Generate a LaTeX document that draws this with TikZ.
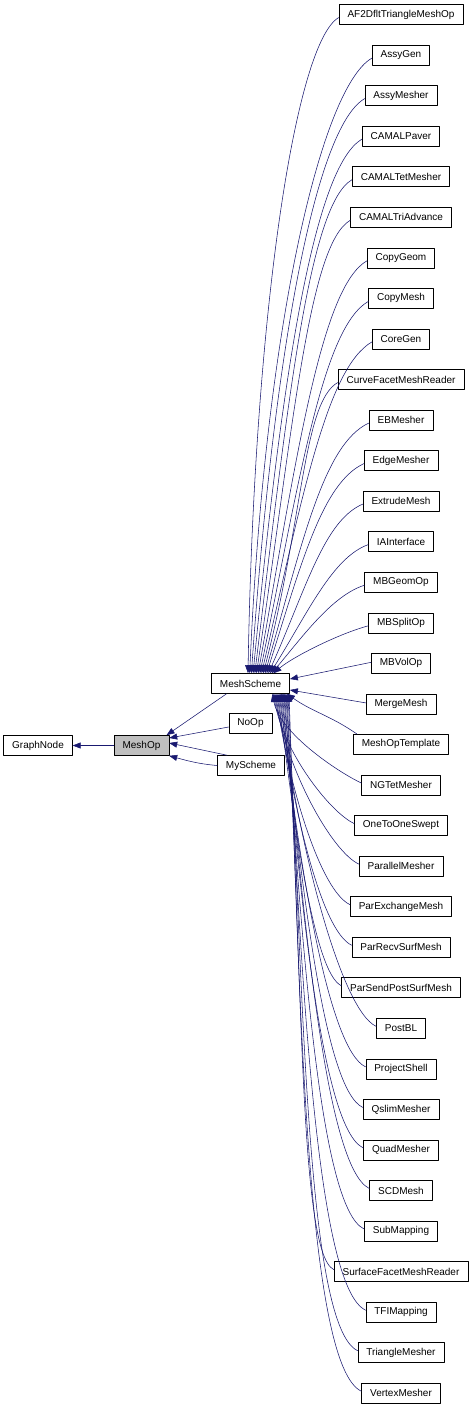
\documentclass[tikz,border=0pt]{standalone}
\usepackage{fontspec}
\setmainfont{Liberation Sans}
\usetikzlibrary{arrows.meta}
\definecolor{edgeblue}{RGB}{25,25,112}
\definecolor{opgray}{RGB}{191,191,191}
\begin{document}
\begin{tikzpicture}[x=1pt, y=1pt, font=\fontsize{10}{12}\selectfont, line join=round, line cap=round,
		cls/.style={draw=black, fill=white, line width=0.6pt, inner xsep=8.5pt, inner ysep=0pt, minimum height=20pt},
		edge/.style={draw=edgeblue, line width=0.55pt, -{Triangle[length=8pt, width=6pt]}}]
				\useasboundingbox (0,0) rectangle (474,-1409);
				% left part
				\node[cls] (graphnode) at (38,-745.5) {GraphNode};
				\node[cls, fill=opgray] (meshop) at (141.5,-745.5) {MeshOp};
				\node[cls] (ms) at (250.5,-683.5) {MeshScheme};
				\node[cls] (noop) at (250.5,-723.5) {NoOp};
				\node[cls] (myscheme) at (251,-765.5) {MyScheme};
				% derived schemes
				\node[cls] (af2) at (401,-14.5) {AF2DfltTriangleMeshOp};
				\node[cls] (assygen) at (401,-55.1) {AssyGen};
				\node[cls] (assymesher) at (401,-95.6) {AssyMesher};
				\node[cls] (camalpaver) at (401,-136.2) {CAMALPaver};
				\node[cls] (camaltet) at (401,-176.7) {CAMALTetMesher};
				\node[cls] (camaltri) at (401,-217.3) {CAMALTriAdvance};
				\node[cls] (copygeom) at (401,-257.8) {CopyGeom};
				\node[cls] (copymesh) at (401,-298.4) {CopyMesh};
				\node[cls] (coregen) at (401,-338.9) {CoreGen};
				\node[cls] (curvefacet) at (401,-379.5) {CurveFacetMeshReader};
				\node[cls] (ebmesher) at (401,-420.0) {EBMesher};
				\node[cls] (edgemesher) at (401,-460.6) {EdgeMesher};
				\node[cls] (extrude) at (401,-501.1) {ExtrudeMesh};
				\node[cls] (iaint) at (401,-541.7) {IAInterface};
				\node[cls] (mbgeom) at (401,-582.2) {MBGeomOp};
				\node[cls] (mbsplit) at (401,-622.8) {MBSplitOp};
				\node[cls] (mbvol) at (401,-663.3) {MBVolOp};
				\node[cls] (merge) at (401,-703.9) {MergeMesh};
				\node[cls] (optemplate) at (401,-744.4) {MeshOpTemplate};
				\node[cls] (ngtet) at (401,-785.0) {NGTetMesher};
				\node[cls] (onetoone) at (401,-825.5) {OneToOneSwept};
				\node[cls] (parallel) at (401,-866.1) {ParallelMesher};
				\node[cls] (parexch) at (401,-906.6) {ParExchangeMesh};
				\node[cls] (parrecv) at (401,-947.2) {ParRecvSurfMesh};
				\node[cls] (parsend) at (401,-987.7) {ParSendPostSurfMesh};
				\node[cls] (postbl) at (401,-1028.3) {PostBL};
				\node[cls] (projshell) at (401,-1068.8) {ProjectShell};
				\node[cls] (qslim) at (401,-1109.4) {QslimMesher};
				\node[cls] (quad) at (401,-1149.9) {QuadMesher};
				\node[cls] (scd) at (401,-1190.5) {SCDMesh};
				\node[cls] (submap) at (401,-1231.0) {SubMapping};
				\node[cls] (surffacet) at (401,-1271.6) {SurfaceFacetMeshReader};
				\node[cls] (tfi) at (401,-1312.1) {TFIMapping};
				\node[cls] (trimesher) at (401,-1352.7) {TriangleMesher};
				\node[cls] (vertex) at (401,-1393.2) {VertexMesher};
				% inheritance, left part
				\draw[edge] (meshop) -- (graphnode);
				\draw[edge] ([xshift=-24pt]ms.south) -- ([xshift=25pt]meshop.north);
				\draw[edge] ([yshift=-3.5pt]noop.west) -- ([yshift=7.5pt]meshop.east);
				\draw[edge] ([xshift=-24pt]myscheme.north) -- ([yshift=2.5pt]meshop.east);
				\draw[edge] (myscheme.west) to[out=175, in=-15] (meshop.south east);
				% schemes above
				\draw[edge] ([yshift=-3pt]af2.west) to[out=210, in=89, out distance=50pt, in distance=361pt] ([xshift=-2.5pt]ms.north);
				\draw[edge] ([yshift=-3pt]assygen.west) to[out=210, in=87.5, out distance=60pt, in distance=338pt] ([xshift=-0.8pt]ms.north);
				\draw[edge] ([yshift=-3pt]assymesher.west) to[out=210, in=86, out distance=58pt, in distance=316pt] ([xshift=0.9pt]ms.north);
				\draw[edge] ([yshift=-3pt]camalpaver.west) to[out=210, in=84.5, out distance=56pt, in distance=294pt] ([xshift=2.6pt]ms.north);
				\draw[edge] ([yshift=-3pt]camaltet.west) to[out=210, in=83, out distance=50pt, in distance=272pt] ([xshift=4.3pt]ms.north);
				\draw[edge] ([yshift=-3pt]camaltri.west) to[out=210, in=81.5, out distance=48pt, in distance=249pt] ([xshift=6pt]ms.north);
				\draw[edge] ([yshift=-3pt]copygeom.west) to[out=210, in=80, out distance=52pt, in distance=227pt] ([xshift=7.7pt]ms.north);
				\draw[edge] ([yshift=-3pt]copymesh.west) to[out=210, in=78.5, out distance=52pt, in distance=205pt] ([xshift=9.4pt]ms.north);
				\draw[edge] ([yshift=-3pt]coregen.west) to[out=210, in=77, out distance=52pt, in distance=182pt] ([xshift=11.1pt]ms.north);
				\draw[edge] ([yshift=-3pt]curvefacet.west) to[out=210, in=75.5, out distance=40pt, in distance=160pt] ([xshift=12.8pt]ms.north);
				\draw[edge] ([yshift=-3pt]ebmesher.west) to[out=205, in=74, out distance=50pt, in distance=138pt] ([xshift=14.5pt]ms.north);
				\draw[edge] ([yshift=-3pt]edgemesher.west) to[out=205, in=72.5, out distance=46pt, in distance=115pt] ([xshift=16.2pt]ms.north);
				\draw[edge] ([yshift=-3pt]extrude.west) to[out=203, in=66, out distance=42pt, in distance=93pt] ([xshift=17.9pt]ms.north);
				\draw[edge] ([yshift=-3pt]iaint.west) to[out=200, in=58, out distance=38pt, in distance=71pt] ([xshift=19.6pt]ms.north);
				\draw[edge] ([yshift=-3pt]mbgeom.west) to[out=198, in=50, out distance=34pt, in distance=49pt] ([xshift=21.3pt]ms.north);
				\draw[edge] ([yshift=-3pt]mbsplit.west) to[out=195, in=40, out distance=30pt, in distance=26pt] ([xshift=23pt]ms.north);
				% schemes beside
				\draw[edge] ([yshift=1pt]mbvol.west) -- ([yshift=4.5pt]ms.east);
				\draw[edge] ([yshift=1pt]merge.west) -- ([yshift=-6.5pt]ms.east);
				\draw[edge] ([xshift=4pt]optemplate.north west) to[out=145, in=-35] ([xshift=-3pt]ms.south east);
				% schemes below
				\draw[edge] ([yshift=2pt]ngtet.west) to[out=155, in=-80, out distance=25pt, in distance=40pt] ([xshift=22pt]ms.south);
				\draw[edge] ([yshift=2pt]onetoone.west) to[out=155, in=-81, out distance=27pt, in distance=58pt] ([xshift=23.1pt]ms.south);
				\draw[edge] ([yshift=2pt]parallel.west) to[out=155, in=-81, out distance=30pt, in distance=77pt] ([xshift=24.2pt]ms.south);
				\draw[edge] ([yshift=2pt]parexch.west) to[out=155, in=-82, out distance=32pt, in distance=95pt] ([xshift=25.3pt]ms.south);
				\draw[edge] ([yshift=2pt]parrecv.west) to[out=155, in=-82, out distance=34pt, in distance=113pt] ([xshift=26.4pt]ms.south);
				\draw[edge] ([yshift=2pt]parsend.west) to[out=155, in=-83, out distance=30pt, in distance=131pt] ([xshift=27.5pt]ms.south);
				\draw[edge] ([yshift=2pt]postbl.west) to[out=155, in=-83, out distance=39pt, in distance=150pt] ([xshift=28.6pt]ms.south);
				\draw[edge] ([yshift=2pt]projshell.west) to[out=155, in=-84, out distance=41pt, in distance=168pt] ([xshift=29.7pt]ms.south);
				\draw[edge] ([yshift=2pt]qslim.west) to[out=155, in=-84, out distance=43pt, in distance=186pt] ([xshift=30.8pt]ms.south);
				\draw[edge] ([yshift=2pt]quad.west) to[out=155, in=-85, out distance=46pt, in distance=204pt] ([xshift=31.9pt]ms.south);
				\draw[edge] ([yshift=2pt]scd.west) to[out=155, in=-85, out distance=48pt, in distance=223pt] ([xshift=33pt]ms.south);
				\draw[edge] ([yshift=2pt]submap.west) to[out=155, in=-86, out distance=50pt, in distance=241pt] ([xshift=34.1pt]ms.south);
				\draw[edge] ([yshift=2pt]surffacet.west) to[out=155, in=-86, out distance=40pt, in distance=259pt] ([xshift=35.2pt]ms.south);
				\draw[edge] ([yshift=2pt]tfi.west) to[out=155, in=-87, out distance=55pt, in distance=277pt] ([xshift=36.3pt]ms.south);
				\draw[edge] ([yshift=2pt]trimesher.west) to[out=155, in=-87, out distance=57pt, in distance=296pt] ([xshift=37.4pt]ms.south);
				\draw[edge] ([yshift=2pt]vertex.west) to[out=155, in=-88, out distance=60pt, in distance=314pt] ([xshift=38.5pt]ms.south);
\end{tikzpicture}
\end{document}
